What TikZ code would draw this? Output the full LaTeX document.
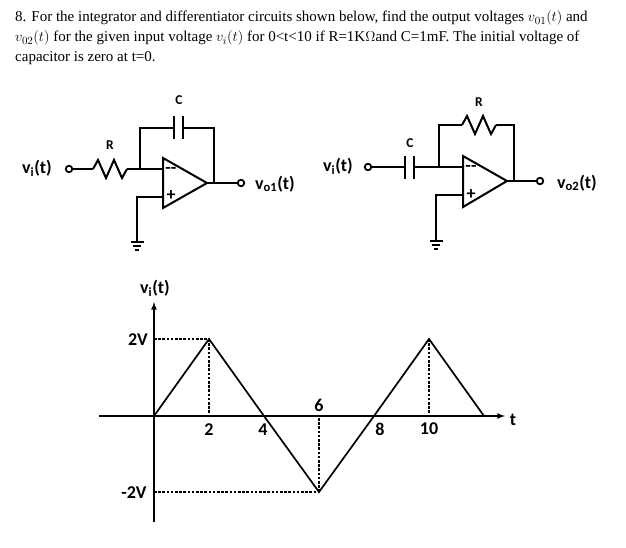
\documentclass[tikz,border=0pt]{standalone}
\usepackage{fontspec}
\setmainfont{Liberation Serif}
\newfontfamily\labelfont{Carlito}[Scale=1.0]
\begin{document}
\begin{tikzpicture}
[x=1pt,y=-1pt,>=latex,%
  linedecorate/.style={-,line width=2pt,line join=miter},%
  nodedecorate/.style={shape=circle,inner sep=0pt,minimum size=6.5pt,draw,line width=1.8pt,fill=white},%
  plotdecorate/.style={-,line width=1.7pt,line join=miter},%
  axisdecorate/.style={->,line width=1.6pt},%
  guidedecorate/.style={-,line width=1.2pt,dash pattern=on 2.6pt off 1.6pt},%
  capdecorate/.style={-,line width=2.8pt},%
  gnddecorate/.style={-,line width=1.8pt},%
  resistordecorate/.style={-,line width=2pt,to path={-- ++(5,-9) -- ++(8,18) -- ++(8,-18) -- ++(8,18) -- (\tikztotarget)}},%
  textdecorate/.style={font=\labelfont\bfseries\fontsize{18}{18}\selectfont,inner sep=0pt},%
  smalldecorate/.style={font=\labelfont\bfseries\fontsize{13.5}{14}\selectfont,inner sep=0pt}]
\useasboundingbox (0,0) rectangle (626,548);
%% question text
\node (question) at (15,11) [anchor=north west,inner sep=0pt,align=left,font=\fontsize{15}{20}\selectfont] {%
8. For the integrator and differentiator circuits shown below, find the output voltages $v_{01}(t)$ and\\
$v_{02}(t)$ for the given input voltage $v_i(t)$ for 0<t<10 if R=1K$\Omega$and C=1mF. The initial voltage of\\
capacitor is zero at t=0.};
%% junction points of both circuits
\foreach \nodename/\x/\y in {ra/93/169, rb/127/169, jm/140/169, fa/140/128, fb/214/128, fc/214/183,
  ca/174/128, cb/183/128, ua/163/158, ub/163/208, uc/207/183, um/163/169, up/163/197,
  pa/137/197, pb/137/242,
  Cra/405/167, Crb/414/167, Cjm/439/167, Cfa/439/125, Cfb/514/125, Cfc/514/181,
  Cca/462/125, Ccb/496/125, Cua/463/156, Cub/463/207, Cuc/507/181, Cum/463/167, Cup/463/195,
  Cpa/436/195, Cpb/436/241} {
  \node (\nodename) at (\x,\y) [coordinate] {};
}
%% capacitor plates
\foreach \nodename/\x/\ya/\yb in {pl1/174/116/139, pl2/183/116/139, pl3/405/156/179, pl4/414/156/179} {
  \node (\nodename a) at (\x,\ya) [coordinate] {};
  \node (\nodename b) at (\x,\yb) [coordinate] {};
  \path (\nodename a) edge[capdecorate] (\nodename b);
}
%% ground symbols
\foreach \nodename/\x/\y in {g1/137/242, g2/436/241} {
  \foreach \w/\dy in {6.5/0, 4/4, 2/8} {
    \draw[gnddecorate] (\x-\w,\y+\dy) -- (\x+\w,\y+\dy);
  }
}
%% terminals
\foreach \nodename/\x/\y in {ti/69/169, to/241/183, Cti/368/167, Cto/540/181} {
  \node (\nodename) at (\x,\y) [nodedecorate] {};
}
%% integrator
\draw[linedecorate] (ua) -- (ub) -- (uc) -- cycle;
\draw[linedecorate] (jm) -- (fa) -- (ca);
\draw[linedecorate] (cb) -- (fb) -- (fc);
\draw[linedecorate] (up) -- (pa) -- (pb);
\path
(ti) edge[linedecorate] (ra)
(ra) edge[resistordecorate] (rb)
(rb) edge[linedecorate] (um)
(uc) edge[linedecorate] (to);
%% differentiator
\draw[linedecorate] (Cua) -- (Cub) -- (Cuc) -- cycle;
\draw[linedecorate] (Cjm) -- (Cfa) -- (Cca);
\draw[linedecorate] (Ccb) -- (Cfb) -- (Cfc);
\draw[linedecorate] (Cup) -- (Cpa) -- (Cpb);
\path
(Cti) edge[linedecorate] (Cra)
(Crb) edge[linedecorate] (Cum)
(Cca) edge[resistordecorate] (Ccb)
(Cuc) edge[linedecorate] (Cto);
%% circuit labels
\foreach \nodename/\x/\y/\txt in {lc/179/100/C, lr/110/145/R, lC/410/143/C, lR/479/102/R} {
  \node (\nodename) at (\x,\y) [smalldecorate] {\txt};
}
\foreach \nodename/\x/\y/\txt in {sm/171/170/--, sp/171/196/+, Csm/471/168/--, Csp/471/195/+} {
  \node (\nodename) at (\x,\y) [textdecorate] {\txt};
}
\node (li) at (37,168) [textdecorate] {v\textsubscript{i}(t)};
\node (lo) at (275,184) [textdecorate] {v\textsubscript{o1}(t)};
\node (Cli) at (338,166) [textdecorate] {v\textsubscript{i}(t)};
\node (Clo) at (577,183) [textdecorate] {v\textsubscript{o2}(t)};
%% waveform points
\foreach \nodename/\x/\y in {xa/99/416, xb/505/416, ya/154/522, yb/154/302, o/154/416,
  w2/209/339, w4/264/416, w6/319/492, w8/374/416, w10/429/339, w12/484/416,
  a2/209/416, a6/319/418, a10/429/416, h2/154/339, hm/154/492} {
  \node (\nodename) at (\x,\y) [coordinate] {};
}
%% axes and waveform
\path
(xa) edge[axisdecorate] (xb)
(ya) edge[axisdecorate] (yb)
(h2) edge[guidedecorate] (w2)
(w2) edge[guidedecorate] (a2)
(hm) edge[guidedecorate] (w6)
(a6) edge[guidedecorate] (w6)
(w10) edge[guidedecorate] (a10);
\draw[plotdecorate] (o) -- (w2) -- (w4) -- (w6) -- (w8) -- (w10) -- (w12);
%% waveform labels
\foreach \nodename/\x/\y/\txt in {n2/209/430/2, n4/263/430/4, n6/319/405/6, n8/380/429/8, n10/429/429/10,
  vp/138/340/2V, vm/134/493/-2V, lt/513/420/t} {
  \node (\nodename) at (\x,\y) [textdecorate] {\txt};
}
\node (lv) at (155,288) [textdecorate] {v\textsubscript{i}(t)};
\end{tikzpicture}
\end{document}
